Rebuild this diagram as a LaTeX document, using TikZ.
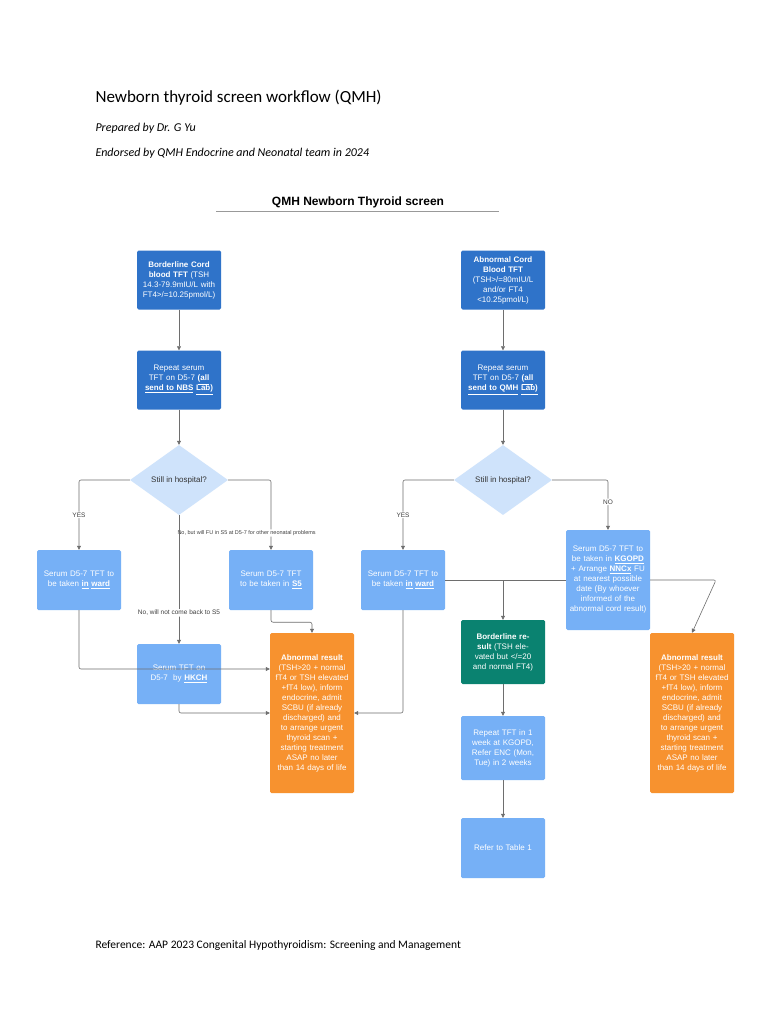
\documentclass[tikz,border=0pt]{standalone}
\usepackage{fontspec}
\setmainfont{Carlito}
\newfontfamily\boxfont{Liberation Sans}
\usetikzlibrary{shapes.geometric,arrows.meta}
\definecolor{dblue}{HTML}{2F73C9}
\definecolor{lblue}{HTML}{76B0F6}
\definecolor{orng}{HTML}{F7922F}
\definecolor{grn}{HTML}{0A8270}
\definecolor{dia}{HTML}{CFE3FB}
\definecolor{ln}{HTML}{6E6E6E}
\begin{document}
\begin{tikzpicture}[x=1pt,y=-1pt,
  bx/.style={rectangle,rounded corners=1.5pt,text=white,align=center,inner sep=1pt,font=\boxfont\fontsize{8}{10}\selectfont,minimum width=84pt,text width=80pt},
  db/.style={bx,fill=dblue,minimum height=59pt},
  lb/.style={bx,fill=lblue,minimum height=60pt},
  ob/.style={bx,fill=orng,minimum height=160pt},
  dm/.style={diamond,fill=dia,aspect=1.4,minimum width=98pt,minimum height=70pt,inner sep=0pt,font=\boxfont\fontsize{8}{10}\selectfont,text=black!80},
  ar/.style={draw=ln,line width=0.6pt,-{Triangle[length=4pt,width=4pt]},rounded corners=2pt},
  lab/.style={font=\boxfont\fontsize{6.5}{8}\selectfont,text=black!75,fill=white,inner sep=1pt},
  slab/.style={font=\boxfont\fontsize{5.5}{7}\selectfont,text=black!75,fill=white,inner sep=1pt}]
\useasboundingbox[fill=white] (0,0) rectangle (768,1024);
\node[anchor=west,font=\fontsize{17}{20}\selectfont] (h1) at (92,98) {Newborn thyroid screen workflow (QMH)};
\node[anchor=west,font=\itshape\fontsize{12}{14}\selectfont] (h2) at (92,128) {Prepared by Dr. G Yu};
\node[anchor=west,font=\itshape\fontsize{12}{14}\selectfont] (h3) at (92,153) {Endorsed by QMH Endocrine and Neonatal team in 2024};
\node[font=\boxfont\bfseries\fontsize{12}{14}\selectfont] (tt) at (358,202) {QMH Newborn Thyroid screen};
\draw[black!40,line width=0.5pt] (216,211) -- (499,211);
\node[anchor=west,font=\fontsize{11.5}{14}\selectfont] (rf) at (92,945) {Reference: AAP 2023 Congenital Hypothyroidism: Screening and Management};

% left column
\node[db] (b1) at (179,280) {\textbf{Borderline Cord blood TFT} (TSH 14.3-79.9mIU/L with FT4>/=10.25pmol/L)};
\node[db] (b2) at (179,380) {Repeat serum TFT on D5-7 \textbf{\underline{(all} \underline{send to NBS} \underline{Lab)}}};
\node[dm] (d1) at (179,480) {Still in hospital?};
\node[lb] (y1) at (79,580) {Serum D5-7 TFT to be taken \textbf{\underline{in} \underline{ward}}};
\node[lb] (s5) at (271,580) {Serum D5-7 TFT to be taken in \textbf{\underline{S5}}};
\node[lb] (hk) at (179,674) {Serum TFT on D5-7~ by \textbf{\underline{HKCH}}};
\node[ob] (o1) at (312,713) {\textbf{Abnormal result} (TSH>20 + normal fT4 or TSH elevated +fT4 low), inform endocrine, admit SCBU (if already discharged) and to arrange urgent thyroid scan + starting treatment ASAP no later than 14 days of life};

% right column
\node[db] (a1) at (503,280) {\textbf{Abnormal Cord Blood TFT} (TSH>/=80mIU/L and/or FT4 <10.25pmol/L)};
\node[db] (a2) at (503,380) {Repeat serum TFT on D5-7 \textbf{\underline{(all} \underline{send to QMH} \underline{Lab)}}};
\node[dm] (d2) at (503,480) {Still in hospital?};
\node[lb] (y2) at (403,580) {Serum D5-7 TFT to be taken \textbf{\underline{in} \underline{ward}}};
\coordinate (br) at (503,580);
\coordinate (cr) at (716,580);
\node[bx,fill=grn,minimum height=64pt] (g1) at (503,652) {\textbf{Borderline result} (TSH elevated but </=20 and normal FT4)};
\node[lb,minimum height=64pt] (r1) at (503,748) {Repeat TFT in 1 week at KGOPD, Refer ENC (Mon, Tue) in 2 weeks};
\node[lb] (t1) at (503,848) {Refer to Table 1};
\node[ob] (o2) at (692,713) {\textbf{Abnormal result} (TSH>20 + normal fT4 or TSH elevated +fT4 low), inform endocrine, admit SCBU (if already discharged) and to arrange urgent thyroid scan + starting treatment ASAP no later than 14 days of life};
\begin{scope}[on background layer/.style={}]
\end{scope}

% connectors left
\draw[ar] (b1) -- (b2);
\draw[ar] (b2) -- (d1);
\draw[ar] (d1.west) -| (y1.north) node[lab,pos=0.75] {YES};
\draw[ar] (d1.east) -| (s5.north) node[slab,pos=0.88,anchor=east,xshift=46pt] {No, but will FU in S5 at D5-7 for other neonatal problems};
\draw[ar] (d1.south) -- (hk.north) node[lab,pos=0.76] {No, will not come back to S5};
\draw[ar] (s5.south) -- ++(0,12) -| (o1.north);
\draw[ar] (hk.south) |- (o1.west);
\draw[ar] (y1.south) |- ([yshift=44pt]o1.west);
\draw[ar] (y2.south) |- (o1.east);

% connectors right
\draw[ar] (a1) -- (a2);
\draw[ar] (a2) -- (d2);
\draw[ar] (d2.west) -| (y2.north) node[lab,pos=0.75] {YES};
\draw[draw=ln,line width=0.6pt] (y2.east) -- (br);
\draw[ar] (br) -- (g1.north);
\draw[ar] (g1) -- (r1);
\draw[ar] (r1) -- (t1);
\node[lb,minimum height=100pt] (nb) at (608,580) {Serum D5-7 TFT to be taken in \textbf{\underline{KGOPD}} + Arrange \textbf{\underline{NNCx}} FU at nearest possible date (By whoever informed of the abnormal cord result)};
\draw[draw=ln,line width=0.6pt,rounded corners=2pt] (br) -- (nb.west);
\draw[ar] (nb.east) -- (cr) -- (o2.north);
\draw[ar] (d2.east) -| (nb.north) node[lab,pos=0.72] {NO};
\end{tikzpicture}
\end{document}
